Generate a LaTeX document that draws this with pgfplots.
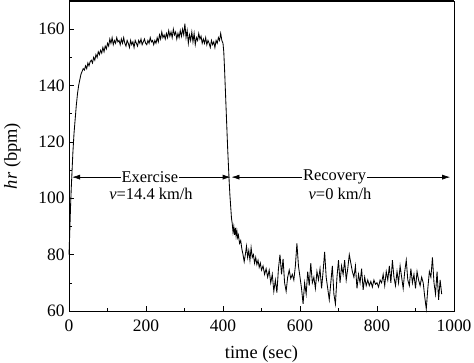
\documentclass[border=0pt]{standalone}
\usepackage{fontspec}
\setmainfont{Liberation Serif}
\usepackage{pgfplots}
\pgfplotsset{compat=1.18}
\usetikzlibrary{arrows.meta}
\begin{document}
\begin{tikzpicture}[font=\fontsize{17}{19}\selectfont]
\useasboundingbox (-69bp,-52bp) rectangle (405bp,311bp);
\begin{axis}[
  scale only axis, width=385bp, height=310bp,
  at={(0,0)}, anchor=south west,
  xmin=0, xmax=1000, ymin=60, ymax=170,
  xtick={0,200,...,1000}, ytick={60,80,...,160},
  minor x tick num=1, minor y tick num=1,
  tick align=inside, xtick pos=bottom, ytick pos=left,
  major tick length=5bp, minor tick length=3bp,
  axis line style={line width=0.7pt}, every tick/.style={black, line width=0.6pt},
  /pgf/number format/assume math mode=true,
  /pgf/number format/1000 sep={},
  tick label style={font=\fontsize{17.5}{19}\selectfont},
  xticklabel style={yshift=-5bp},
  yticklabel style={xshift=-1bp},
  every axis y label/.style={at={(axis description cs:-0.147,0.5)}, rotate=90, anchor=center, font=\fontsize{18.5}{20}\selectfont},
  every axis x label/.style={at={(axis description cs:0.5,-0.14)}, anchor=center, font=\fontsize{18.5}{20}\selectfont},
  xlabel={time (sec)}, ylabel={\textit{hr} (bpm)},
  clip=false,
]
\addplot[black, line width=0.85pt] coordinates {
(0,80) (2,88) (4,97) (6,104) (8,110) (10,116) (13,123) (16,128) (19,133) (22,137) (25,140) (28,142) (31,144) (34,145) (37,146) (40,145.5) (43,147) (46,146) (49,148) (52,147) (55,148.5) (58,149) (61,148) (64,150) (67,149) (70,151) (73,150) (76,152) (79,151) (82,152.5) (85,151.5) (88,153.5) (91,152) (94,154) (97,153) (100,155) (103,154) (106,156.5) (109,155) (112,157) (115,154.5) (118,156) (121,155) (124,157) (127,155.5) (130,156) (133,154.5) (136,156.5) (139,155) (142,157) (145,155) (148,154) (151,156) (154,155) (157,153.5) (160,156) (163,154.5) (166,155.5) (169,153.5) (172,156) (175,155) (178,154) (181,156) (184,155) (187,156.5) (190,154.5) (193,155.5) (196,156.5) (199,155) (202,154.5) (205,156) (208,155) (211,157) (214,155.5) (217,156) (220,154.5) (223,156) (226,155) (229,157) (232,155.5) (235,158) (238,156.5) (241,159) (244,157) (247,158) (250,156.5) (253,158.5) (256,157) (259,159.5) (262,157.5) (265,159) (268,157) (271,160) (274,158) (277,159) (280,156.5) (283,158.5) (286,157) (289,159.5) (292,157.5) (295,160) (298,158) (301,162) (304,157) (307,159.5) (310,155) (313,158) (316,156) (319,159) (322,155.5) (325,158.5) (328,154.5) (331,157) (334,156) (337,158.5) (340,156.5) (343,157.5) (346,155) (349,156.5) (352,155) (355,157) (358,154.5) (361,156) (364,155) (367,153.5) (370,156) (373,154.5) (376,155.5) (379,153.5) (382,156) (385,155) (388,157) (391,156) (394,158.5) (397,156) (400,155) (402,152) (404,146) (406,139) (408,132) (410,125) (412,118) (414,112) (416,106) (418,101) (420,97) (422,93) (424,91) (426,88) (428,90) (430,87) (432,89.5) (434,86.5) (436,88.5) (438,86) (440,87) (443,84) (446,85) (449,82) (452,80) (455,77.5) (458,80) (461,83) (464,79) (467,81.5) (470,78) (473,82.5) (476,79) (479,80) (482,77) (485,79) (488,76.5) (491,78) (494,75.5) (497,77) (500,74.5) (504,76) (508,73) (512,75) (516,72) (520,74.5) (524,70) (528,73) (532,67) (536,71) (540,66.5) (544,75) (548,80) (552,73) (556,78.5) (560,70) (564,67) (568,72) (572,74.5) (576,71.5) (580,73) (584,71) (588,76) (592,84) (596,76) (600,72) (604,68) (608,62.5) (612,70) (616,66) (620,74) (624,69) (628,77) (632,70) (636,72) (640,68) (644,74) (648,71) (652,75) (656,68) (660,74) (664,81) (668,72) (672,68) (676,64) (680,70) (684,76) (688,66) (692,62.5) (696,72) (700,78) (704,70) (708,76) (712,73) (716,78) (720,71) (724,75) (728,80) (732,77) (736,74) (740,72) (744,76) (748,68) (752,73) (756,70) (760,75) (764,67.5) (768,72) (772,69) (776,71) (780,69) (784,70.5) (788,68.5) (792,71) (796,69.5) (800,70) (804,68.5) (808,71) (812,70) (816,73) (820,69) (824,74) (828,71) (832,76) (836,70) (840,78) (844,72) (848,69) (852,74) (856,70) (860,76) (864,72) (868,68) (872,74) (876,78) (880,71) (884,69) (888,75) (892,70) (896,73) (900,68) (904,74) (908,71) (912,69) (916,72) (920,70) (924,65) (928,60.7) (932,68) (936,74) (940,72) (944,79) (948,70) (952,66) (956,74) (960,64) (964,71) (968,66)
};
\draw[{Latex[length=8bp,width=5bp]}-{Latex[length=8bp,width=5bp]}, line width=0.6pt] (axis cs:8,107.5) -- (axis cs:420,107.5);
\draw[{Latex[length=8bp,width=5bp]}-{Latex[length=8bp,width=5bp]}, line width=0.6pt] (axis cs:422,107.5) -- (axis cs:990,107.5);
\node[fill=white, inner sep=1pt, font=\fontsize{16.5}{18}\selectfont] at (axis cs:210,107.5) {Exercise};
\node[inner sep=1pt, font=\fontsize{16.5}{18}\selectfont] at (axis cs:213,101.4) {\textit{v}=14.4 km/h};
\node[fill=white, inner sep=1pt, font=\fontsize{16.5}{18}\selectfont] at (axis cs:690,107.5) {Recovery};
\node[inner sep=1pt, font=\fontsize{16.5}{18}\selectfont] at (axis cs:704,101.4) {\textit{v}=0 km/h};
\draw[line width=1.6pt] (rel axis cs:0,1) -- (rel axis cs:1,1);
\end{axis}
\end{tikzpicture}
\end{document}
